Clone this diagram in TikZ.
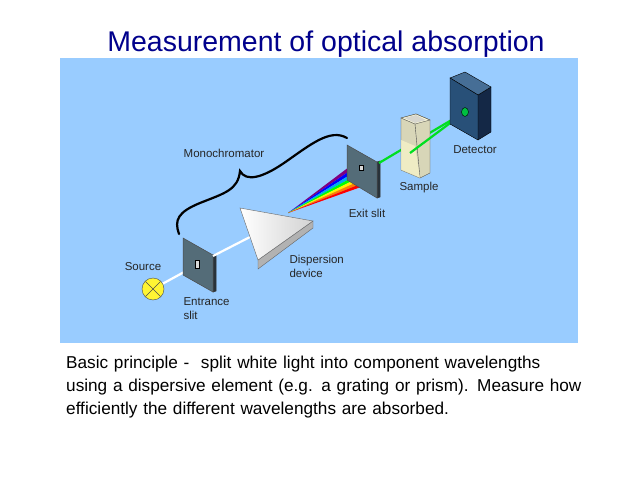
\documentclass[tikz,border=0pt]{standalone}
\usepackage{fontspec}
\setmainfont{Liberation Sans}
\usetikzlibrary{calc}
\definecolor{platec}{RGB}{84,108,120}
\definecolor{edgec}{RGB}{40,50,58}
\definecolor{detf}{RGB}{40,80,120}
\definecolor{dett}{RGB}{70,110,150}
\definecolor{dets}{RGB}{20,40,70}
\begin{document}
\begin{tikzpicture}[x=1pt,y=-1pt,
  lab/.style={font=\fontsize{11.5}{14}\selectfont, text=black!85, align=left},
  plate/.style={fill=platec, draw=black!70, line width=0.5pt},
  edge/.style={fill=edgec, draw=black!80, line width=0.5pt},
  beam/.style={line width=2.2pt}]
\useasboundingbox (0,0) rectangle (638,479);
\fill[white] (0,0) rectangle (638,479);
\fill[fill={rgb,255:red,153;green,204;blue,255}] (60,58) rectangle (578,343);
\node[font=\fontsize{28.5}{32}\selectfont, text={rgb,255:red,0;green,0;blue,140}] (title) at (326,44) {Measurement of optical absorption};
\node[font=\fontsize{17.2}{23}\selectfont, anchor=north west, align=left, text width=600pt, inner sep=0pt] (body) at (66,356) {Basic principle -\ \ split white light into component wavelengths\\using a dispersive element (e.g. a grating or prism). Measure how\\efficiently the different wavelengths are absorbed.};
% beams
\coordinate (src) at (153,289);
\coordinate (eh) at (197,265);
\coordinate (pin) at (250,237);
\draw[beam, white] (src) -- (eh);
% entrance slit
\fill[edge] (213,255) -- (216,254) -- (216,291) -- (213,292) -- cycle;
\fill[plate] (183,238) -- (213,255) -- (213,292) -- (183,275) -- cycle;
\draw[black, fill=gray!30] (195,260) rectangle (199,268);
\draw[beam, white] (213,256) -- (pin);
% brace
\draw[line width=2.2pt, line cap=round] (179,234) .. controls (174,220) and (178,212) .. (200,203) .. controls (225,193) and (238,190) .. (240,171) .. controls (246,182) and (262,178) .. (284,163) .. controls (310,145) and (330,128) .. (347,138);
% prism
\coordinate (pa) at (240,208);
\coordinate (pb) at (313,221);
\coordinate (pc) at (258,260);
\fill[gray!60, draw=black!60] (pc) -- (pb) -- ++(0,7) -- (258,269) -- cycle;
\shade[left color=white, right color=gray!35, draw=black!60] (pa) -- (pb) -- (pc) -- cycle;
% rainbow
\coordinate (ap) at (288,213);
\foreach \i/\c in {0/violet,1/blue,2/cyan,3/green,4/yellow,5/orange,6/red}{
  \fill[\c] (ap) -- ($(353,164)!{\i/7}!(375,182)$) -- ($(353,164)!{(\i+1)/7}!(375,182)$) -- cycle;
}
% exit slit
\fill[edge] (377,162) -- (380,161) -- (380,197) -- (377,198) -- cycle;
\fill[plate] (347,145) -- (377,162) -- (377,198) -- (347,180) -- cycle;
\draw[black, fill=gray!30] (359,165) rectangle (363,170);
% green beam
\coordinate (dh) at (465,112);
\draw[beam, green!75!teal] (379,163) -- (dh);
% sample cuvette
\fill[yellow!30!gray!50!white, draw=black!70] (401,118) -- (416,114) -- (430,120) -- (430,173) -- (420,178) -- (401,170) -- cycle;
\fill[yellow!15!white, draw=black!70] (401,118) -- (416,114) -- (430,120) -- (415,124) -- cycle;
\fill[yellow!10!gray!40!white] (404,118) -- (416,115) -- (426,120) -- (415,123) -- cycle;
\draw[black!70] (415,124) -- (420,178);
\fill[yellow!20!white, opacity=0.6] (401,140) -- (415,146) -- (420,178) -- (401,170) -- cycle;
\draw[beam, green!75!teal] (410,153) -- (dh);
% detector
\fill[dets, draw=black] (478,95) -- (491,87) -- (491,132) -- (478,140) -- cycle;
\fill[dett, draw=black] (450,78) -- (465,72) -- (491,87) -- (478,95) -- cycle;
\fill[detf, draw=black] (450,78) -- (478,95) -- (478,140) -- (450,124) -- cycle;
\draw[black, fill=green!50!teal] (dh) ellipse (3.5 and 4.5);
% source
\draw[black!70, fill=yellow!80!white] (src) circle (11);
\draw[black!70] ($(src)+(-7.5,-7.5)$) -- ($(src)+(7.5,7.5)$) ($(src)+(-7.5,7.5)$) -- ($(src)+(7.5,-7.5)$);
% labels
\node[lab] (lmono) at (224,153) {Monochromator};
\node[lab] (ldet) at (475,150) {Detector};
\node[lab] (lsam) at (419,188) {Sample};
\node[lab] (lexit) at (367,213) {Exit slit};
\node[lab, anchor=west] (ldisp) at (286,266) {Dispersion\\device};
\node[lab] (lsrc) at (143,267) {Source};
\node[lab, anchor=west] (lent) at (180,309) {Entrance\\slit};
\end{tikzpicture}
\end{document}
